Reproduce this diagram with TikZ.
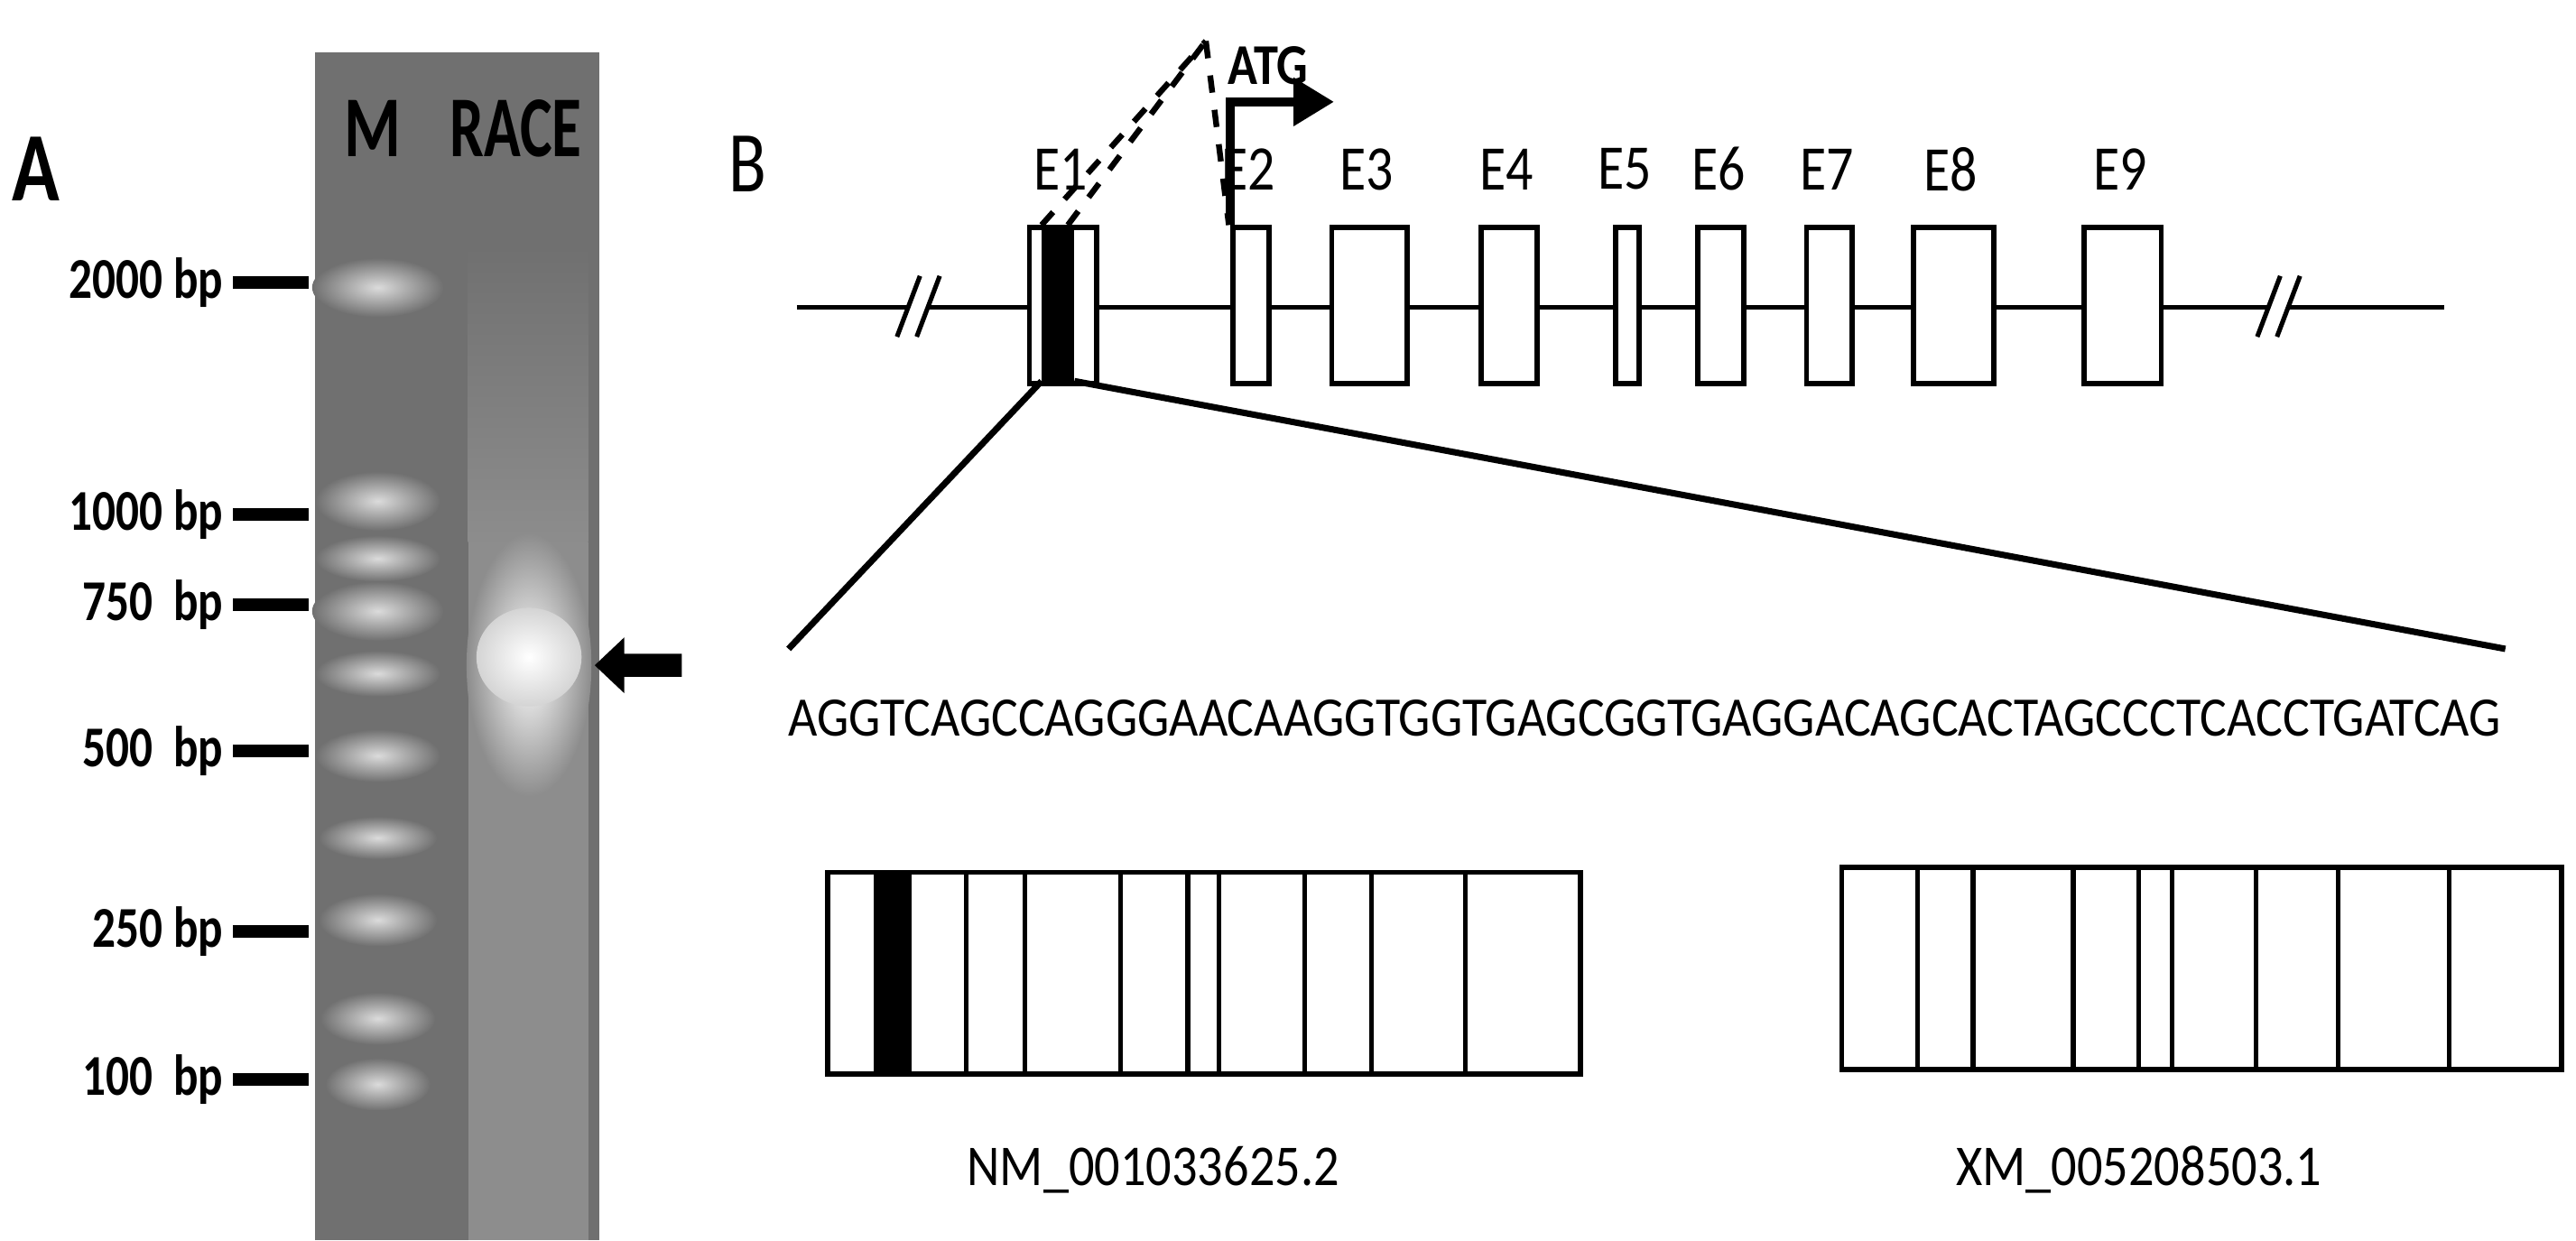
\documentclass[tikz,border=0pt]{standalone}
\usepackage{fontspec}
\setmainfont{Carlito}
\usetikzlibrary{arrows.meta}
\definecolor{gel}{RGB}{112,112,112}
\tikzset{
  exon/.style={draw,line width=0.9pt,fill=white},
  tick/.style={line width=2.2pt},
  mlab/.style={anchor=east,font=\bfseries\fontsize{10}{10}\selectfont,xscale=0.8,inner sep=0},
  elab/.style={font=\fontsize{11}{11}\selectfont,xscale=0.85},
  band/.style={inner color=white!75!gel,outer color=gel},
}
\begin{document}
\begin{tikzpicture}[x=0.01cm,y=-0.01cm,line width=0.8pt]
\useasboundingbox (0,0) rectangle (1568,755);
% ---------- panel A ----------
\node[font=\bfseries\fontsize{17}{17}\selectfont,xscale=0.8] (A) at (22,103) {A};
\fill[gel] (192,32) rectangle (365,755);
\shade[top color=gel,bottom color=gel!80!white] (285,150) rectangle (358,330);
\fill[gel!80!white] (285,330) rectangle (358,755);
\foreach \y/\w/\h in {175/40/18,305/38/18,340/38/14,372/40/18,410/38/14,460/38/16,510/36/13,560/36/16,620/35/16,660/32/16}
  \shade[band] (230,\y) ellipse ({\w} and {\h});
\shade[inner color=white,outer color=gel!80!white] (322,405) ellipse (38 and 80);
\shade[inner color=white,outer color=white!70!gel] (322,400) ellipse (32 and 30);
\node[font=\bfseries\fontsize{15}{15}\selectfont,xscale=0.75] (M) at (227,78) {M};
\node[font=\bfseries\fontsize{15}{15}\selectfont,xscale=0.7] (R) at (314,78) {RACE};
\foreach \y/\t in {172/2000 bp,313/1000 bp,368/750\ \ bp,457/500\ \ bp,567/250 bp,657/100\ \ bp}{
  \node[mlab] at (137,\y) {\t};
  \draw[tick] (142,\y) -- (188,\y);
}
\fill (415,398) -- (380,398) -- (380,388) -- (362,405) -- (380,422) -- (380,412) -- (415,412) -- cycle;
% ---------- panel B ----------
\node[font=\fontsize{15}{15}\selectfont,xscale=0.8] (B) at (455,100) {B};
\draw (485,187) -- (552,187);
\draw (566,187) -- (1380,187);
\draw (1394,187) -- (1488,187);
\draw (546,205) -- (560,168); \draw (558,205) -- (572,168);
\draw (1374,205) -- (1388,168); \draw (1386,205) -- (1400,168);
\foreach \n/\a/\b/\l in {e1/625/666/E1,e2/749/771/E2,e3/809/855/E3,e4/900/934/E4,e5/982/996/E5,e6/1032/1060/E6,e7/1098/1126/E7,e8/1163/1212/E8,e9/1267/1314/E9}{
  \node[exon,minimum width={(\b-\a)*0.01cm},minimum height=0.95cm,inner sep=0,anchor=north west] (\n) at (\a,137) {};
  \node[elab] at ({(\a+\b)/2},103) {\l};
}
\fill (634,137) rectangle (654,232);
\coordinate (apex) at (734,25);
\draw[dashed,line width=1pt] (634,137) -- (apex);
\draw[dashed,line width=1pt] (650,137) -- (apex);
\draw[dashed,line width=1pt] (apex) -- (748,137);
\draw[line width=1.6pt,-{Triangle[length=7pt,width=8pt]}] (e2.north west) -- (749,62) -- (812,62);
\node[font=\bfseries\fontsize{10}{10}\selectfont,xscale=0.85] (atg) at (772,40) {ATG};
\coordinate (zl) at (480,395); \coordinate (zr) at (1525,395);
\draw[line width=1.1pt] (634,232) -- (zl);
\draw[line width=1.1pt] (654,232) -- (zr);
\node[inner sep=0] (seq) at (1001,437) {\resizebox{10.42cm}{0.22cm}{\fontsize{10}{10}\selectfont AGGTCAGCCAGGGAACAAGGTGGTGAGCGGTGAGGACAGCACTAGCCCTCACCTGATCAG}};
% transcripts
\draw[line width=0.9pt] (504,531) rectangle (962,654);
\fill (532,531) rectangle (555,654);
\foreach \x in {588,624,682,723,742,794,835,892} \draw[line width=0.8pt] (\x,531) -- (\x,654);
\draw[line width=0.9pt] (1121,528) rectangle (1559,651);
\foreach \x in {1167,1201,1262,1302,1322,1373,1423,1491} \draw[line width=0.8pt] (\x,528) -- (\x,651);
\node[font=\fontsize{10}{10}\selectfont,xscale=0.88] (nm) at (702,712) {NM\_001033625.2};
\node[font=\fontsize{10}{10}\selectfont,xscale=0.88] (xm) at (1302,712) {XM\_005208503.1};
\end{tikzpicture}
\end{document}
